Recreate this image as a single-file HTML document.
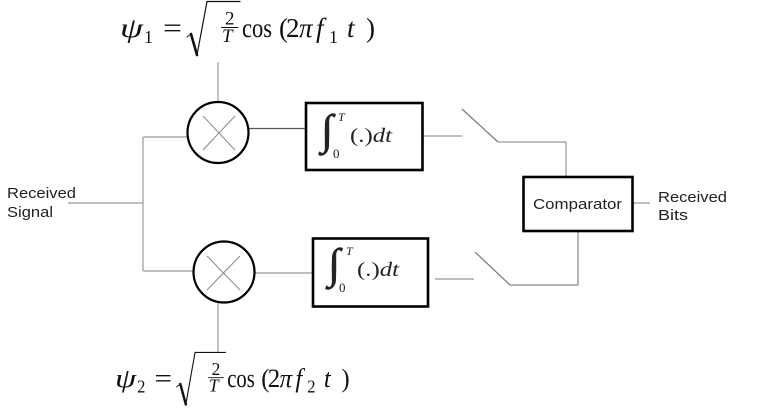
<!DOCTYPE html>
<html><head><meta charset="utf-8"><style>
html,body{margin:0;padding:0;background:#fff;}
svg{display:block;}
</style></head><body>
<svg width="768" height="408" viewBox="0 0 768 408" xmlns="http://www.w3.org/2000/svg">
<rect width="768" height="408" fill="#fff"/>

<!-- connectors -->
<g stroke="#999" stroke-width="1.2" fill="none">
  <line x1="68" y1="203" x2="143" y2="203"/>
  <line x1="143" y1="137" x2="143" y2="271"/>
  <line x1="143" y1="137" x2="188" y2="137"/>
  <line x1="143" y1="271" x2="193" y2="271"/>
  <line x1="218" y1="62" x2="218" y2="102"/>
  <line x1="218" y1="302" x2="218" y2="353"/>
  <line x1="248" y1="128.5" x2="305" y2="128.5" stroke="#555"/>
  <line x1="255" y1="273" x2="312" y2="273"/>
  <line x1="423" y1="136" x2="462" y2="136"/>
  <line x1="462" y1="109" x2="498" y2="142" stroke="#777"/>
  <polyline points="498,142 566,142 566,176"/>
  <line x1="435" y1="279" x2="474" y2="279"/>
  <line x1="475" y1="252" x2="510" y2="285" stroke="#777"/>
  <polyline points="510,285 578,285 578,231" stroke="#888"/>
  <line x1="633" y1="203" x2="650" y2="203"/>
</g>

<!-- mixers -->
<circle cx="218" cy="132.5" r="30.5" fill="#fff" stroke="#000" stroke-width="2.2"/>
<g stroke="#888" stroke-width="1">
  <line x1="203" y1="116" x2="235" y2="150"/>
  <line x1="235" y1="116" x2="203" y2="150"/>
</g>
<circle cx="224" cy="272" r="30.5" fill="#fff" stroke="#000" stroke-width="2.2"/>
<g stroke="#888" stroke-width="1">
  <line x1="207" y1="256" x2="240" y2="290"/>
  <line x1="240" y1="256" x2="207" y2="290"/>
</g>

<!-- integrator boxes -->
<rect x="306" y="103" width="116.5" height="67" fill="#fff" stroke="#000" stroke-width="2.6"/>
<rect x="313" y="238.5" width="115" height="68" fill="#fff" stroke="#000" stroke-width="2.6"/>

<g font-family="Liberation Serif, DejaVu Serif, serif" fill="#222">
  <text x="0" y="0" font-size="30" stroke="#222" stroke-width="0.4" transform="translate(321,144) scale(1.5,1.42)">∫</text>
  <text x="338" y="121" font-size="12" font-style="italic">T</text>
  <text x="333" y="158" font-size="13">0</text>
  <text x="350" y="142" font-size="20" textLength="42" lengthAdjust="spacingAndGlyphs">(.)<tspan font-style="italic">dt</tspan></text>

  <text x="0" y="0" font-size="30" stroke="#222" stroke-width="0.4" transform="translate(328,278) scale(1.5,1.42)">∫</text>
  <text x="346" y="255" font-size="12" font-style="italic">T</text>
  <text x="339" y="292" font-size="13">0</text>
  <text x="357" y="276" font-size="20" textLength="42" lengthAdjust="spacingAndGlyphs">(.)<tspan font-style="italic">dt</tspan></text>
</g>

<!-- comparator -->
<rect x="523.5" y="177" width="109" height="54" fill="#fff" stroke="#000" stroke-width="2.6"/>
<g font-family="Liberation Sans, Arial, sans-serif" fill="#222" font-size="15">
  <text x="533" y="209" textLength="89" lengthAdjust="spacingAndGlyphs">Comparator</text>
  <text x="658" y="202" textLength="69" lengthAdjust="spacingAndGlyphs">Received</text>
  <text x="658" y="220" textLength="30" lengthAdjust="spacingAndGlyphs">Bits</text>
  <text x="7" y="198" textLength="69" lengthAdjust="spacingAndGlyphs">Received</text>
  <text x="7" y="217" textLength="46" lengthAdjust="spacingAndGlyphs">Signal</text>
</g>

<!-- top formula -->
<g font-family="Liberation Serif, DejaVu Serif, serif" fill="#111">
  <text x="120" y="37" font-size="27" font-style="italic" textLength="23" lengthAdjust="spacingAndGlyphs">ψ</text>
  <text x="144" y="43" font-size="18">1</text>
  <text x="163" y="37" font-size="27" textLength="19" lengthAdjust="spacingAndGlyphs">=</text>
  <g stroke="#111" fill="none" stroke-linecap="round">
    <line x1="187" y1="37" x2="191" y2="34" stroke-width="1"/>
    <line x1="191" y1="34" x2="197" y2="55" stroke-width="2.6"/>
    <line x1="197" y1="55" x2="207" y2="1.5" stroke-width="1.2"/>
    <line x1="207" y1="1.5" x2="240" y2="1.5" stroke-width="1.2"/>
    <line x1="221.5" y1="27.5" x2="238" y2="27.5" stroke-width="1"/>
  </g>
  <text x="225" y="24.5" font-size="19">2</text>
  <text x="222" y="42" font-size="19" font-style="italic">T</text>
  <text x="242" y="37" font-size="27" textLength="30" lengthAdjust="spacingAndGlyphs">cos</text>
  <text x="279" y="37" font-size="27">(</text>
  <text x="286" y="37" font-size="27">2</text>
  <text x="299" y="37" font-size="27" font-style="italic">π</text>
  <text x="316" y="37" font-size="27" font-style="italic">f</text>
  <text x="329" y="43" font-size="18">1</text>
  <text x="347" y="37" font-size="27" font-style="italic">t</text>
  <text x="366" y="37" font-size="27">)</text>
</g>

<!-- bottom formula -->
<g font-family="Liberation Serif, DejaVu Serif, serif" fill="#111" transform="translate(115,351) scale(0.92,0.97) translate(-120,0)">
  <text x="120" y="37" font-size="27" font-style="italic" textLength="23" lengthAdjust="spacingAndGlyphs">ψ</text>
  <text x="144" y="43" font-size="18">2</text>
  <text x="163" y="37" font-size="27" textLength="19" lengthAdjust="spacingAndGlyphs">=</text>
  <g stroke="#111" fill="none" stroke-linecap="round">
    <line x1="187" y1="37" x2="191" y2="34" stroke-width="1"/>
    <line x1="191" y1="34" x2="197" y2="55" stroke-width="2.6"/>
    <line x1="197" y1="55" x2="207" y2="1.5" stroke-width="1.2"/>
    <line x1="207" y1="1.5" x2="240" y2="1.5" stroke-width="1.2"/>
    <line x1="221.5" y1="27.5" x2="238" y2="27.5" stroke-width="1"/>
  </g>
  <text x="225" y="24.5" font-size="19">2</text>
  <text x="222" y="42" font-size="19" font-style="italic">T</text>
  <text x="242" y="37" font-size="27" textLength="30" lengthAdjust="spacingAndGlyphs">cos</text>
  <text x="279" y="37" font-size="27">(</text>
  <text x="286" y="37" font-size="27">2</text>
  <text x="299" y="37" font-size="27" font-style="italic">π</text>
  <text x="316" y="37" font-size="27" font-style="italic">f</text>
  <text x="329" y="43" font-size="18">2</text>
  <text x="347" y="37" font-size="27" font-style="italic">t</text>
  <text x="366" y="37" font-size="27">)</text>
</g>
</svg>
</body></html>
